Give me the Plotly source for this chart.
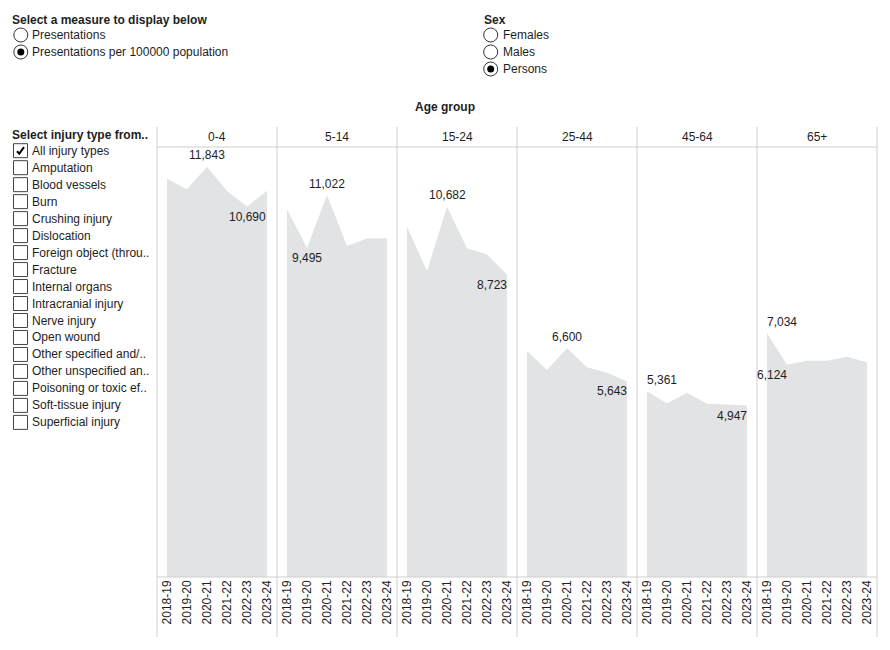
import plotly.graph_objects as go

# ---------------- data ----------------
years = ["2018-19", "2019-20", "2020-21", "2021-22", "2022-23", "2023-24"]
age_groups = ["0-4", "5-14", "15-24", "25-44", "45-64", "65+"]
v_0_4 = [11495, 11189, 11843, 11140, 10690, 11149]
v_5_14 = [10612, 9495, 11022, 9553, 9770, 9780]
v_15_24 = [10110, 8831, 10682, 9486, 9313, 8723]
v_25_44 = [6522, 5974, 6600, 6052, 5896, 5643]
v_45_64 = [5361, 5010, 5320, 5000, 4975, 4947]
v_65_plus = [7034, 6124, 6243, 6243, 6358, 6196]
series = [v_0_4, v_5_14, v_15_24, v_25_44, v_45_64, v_65_plus]

measure_options = ["Presentations", "Presentations per 100000 population"]
measure_selected = 1
sex_options = ["Females", "Males", "Persons"]
sex_selected = 2
injury_types = ["All injury types", "Amputation", "Blood vessels", "Burn", "Crushing injury",
                "Dislocation", "Foreign object (throu..", "Fracture", "Internal organs",
                "Intracranial injury", "Nerve injury", "Open wound", "Other specified and/..",
                "Other unspecified an..", "Poisoning or toxic ef..", "Soft-tissue injury",
                "Superficial injury"]
injury_selected = 0

# ---------------- styling / layout ----------------
W, H = 890, 650
FONT = "Arial, Liberation Sans, sans-serif"
TXT = "#1e1e1e"
LINE = "#cfcfcf"
FILL = "#e1e3e4"
PANEL_LEFT, PANEL_W = 157, 120
HEADER_TOP, PLOT_TOP, PLOT_BOTTOM, LINE_BOTTOM = 127, 147, 577, 637
Y_MAX = 12410

max_anchor = ["center", "center", "center", "center", "left", "left"]
min_anchor = ["center", "center", "right", "right", "right", "right"]
anchor_shift = {"left": -2, "center": 0, "right": 2}


def px(x):
    return x / W


def py(y):
    return 1 - y / H


fig = go.Figure()
annotations = []
shapes = []

for i, (ag, vals) in enumerate(zip(age_groups, series)):
    n = "" if i == 0 else str(i + 1)
    xa, ya = "x" + n, "y" + n
    fig.add_trace(go.Scatter(
        x=years, y=vals, xaxis=xa, yaxis=ya, mode="lines",
        line=dict(width=0, color=FILL), fill="tozeroy", fillcolor=FILL,
        hoverinfo="x+y", showlegend=False))
    x0 = PANEL_LEFT + i * PANEL_W
    fig.layout["xaxis" + n] = dict(
        domain=[px(x0), px(x0 + PANEL_W)], type="category", range=[-0.5, 5.5],
        anchor=ya, tickangle=-90, showgrid=False, zeroline=False, showline=False,
        ticks="", tickfont=dict(family=FONT, size=12, color=TXT), fixedrange=True)
    fig.layout["yaxis" + n] = dict(
        domain=[py(PLOT_BOTTOM), py(PLOT_TOP)], range=[0, Y_MAX], anchor=xa,
        showgrid=False, zeroline=False, showline=False, showticklabels=False,
        ticks="", fixedrange=True)
    # header label
    annotations.append(dict(text=ag, xref=xa + " domain", x=0.5, yref="paper",
                            y=py(137), showarrow=False, xanchor="center", yanchor="middle",
                            font=dict(family=FONT, size=12, color=TXT)))
    # max / min labels
    imax = vals.index(max(vals))
    imin = vals.index(min(vals))
    for idx, anc, shift in [(imax, max_anchor[i], 11.5), (imin, min_anchor[i], -10)]:
        annotations.append(dict(text=f"{vals[idx]:,}", xref=xa, yref=ya, x=years[idx],
                                y=vals[idx], showarrow=False, xanchor=anc, yanchor="middle",
                                yshift=shift, xshift=anchor_shift[anc],
                                font=dict(family=FONT, size=12, color=TXT)))
    # left separator line of this panel
    shapes.append(dict(type="line", xref="paper", yref="paper", x0=px(x0), x1=px(x0),
                       y0=py(HEADER_TOP), y1=py(LINE_BOTTOM), line=dict(color=LINE, width=1)))

x_end = PANEL_LEFT + len(age_groups) * PANEL_W
shapes.append(dict(type="line", xref="paper", yref="paper", x0=px(x_end), x1=px(x_end),
                   y0=py(HEADER_TOP), y1=py(LINE_BOTTOM), line=dict(color=LINE, width=1)))
for yy in (PLOT_TOP, PLOT_BOTTOM):
    shapes.append(dict(type="line", xref="paper", yref="paper", x0=px(PANEL_LEFT), x1=px(x_end),
                       y0=py(yy), y1=py(yy), line=dict(color=LINE, width=1)))

# ---------------- controls ----------------
def text(t, x, y, bold=False, anchor="left"):
    annotations.append(dict(text=f"<b>{t}</b>" if bold else t, xref="paper", yref="paper",
                            x=px(x), y=py(y), showarrow=False, xanchor=anchor, yanchor="middle",
                            xshift=anchor_shift[anchor],
                            font=dict(family=FONT, size=12, color=TXT)))


def radio(cx, cy, on):
    r = 7
    shapes.append(dict(type="circle", xref="paper", yref="paper", x0=px(cx - r), x1=px(cx + r),
                       y0=py(cy + r), y1=py(cy - r), line=dict(color="#333333", width=1),
                       fillcolor="white"))
    if on:
        d = 3.5
        shapes.append(dict(type="circle", xref="paper", yref="paper", x0=px(cx - d), x1=px(cx + d),
                           y0=py(cy + d), y1=py(cy - d), line=dict(color="black", width=0),
                           fillcolor="black"))


def checkbox(cx, cy, on):
    s = 7
    shapes.append(dict(type="rect", xref="paper", yref="paper", x0=px(cx - s), x1=px(cx + s),
                       y0=py(cy + s), y1=py(cy - s), line=dict(color="#444444", width=1),
                       fillcolor="white"))
    if on:
        pts = [(cx - 3.5, cy + 0.5), (cx - 1.2, cy + 3), (cx + 3.5, cy - 3.5)]
        path = "M " + " L ".join(f"{px(a)},{py(b)}" for a, b in pts)
        shapes.append(dict(type="path", xref="paper", yref="paper", path=path,
                           line=dict(color="black", width=2)))


text("Select a measure to display below", 12, 19.5, bold=True)
for k, opt in enumerate(measure_options):
    cy = 35 + 17 * k
    radio(20.8, cy, k == measure_selected)
    text(opt, 32, cy)

text("Sex", 484, 19.5, bold=True)
for k, opt in enumerate(sex_options):
    cy = 35 + 17 * k
    radio(490.7, cy, k == sex_selected)
    text(opt, 503, cy)

text("Age group", 445, 106.5, bold=True, anchor="center")

text("Select injury type from..", 12, 135, bold=True)
for k, opt in enumerate(injury_types):
    cy = 150.7 + 16.98 * k
    checkbox(20.5, cy, k == injury_selected)
    text(opt, 32, cy)

fig.update_layout(width=W, height=H, margin=dict(l=0, r=0, t=0, b=0),
                  paper_bgcolor="white", plot_bgcolor="white",
                  annotations=annotations, shapes=shapes, showlegend=False,
                  font=dict(family=FONT, size=12, color=TXT))

fig.write_html("out.html")
